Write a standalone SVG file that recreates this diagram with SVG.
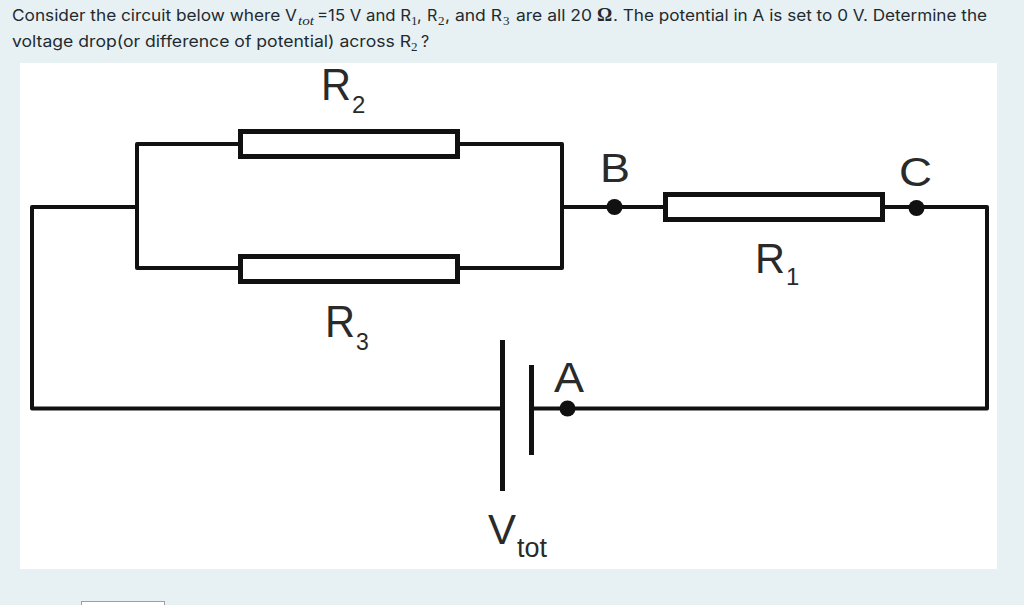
<svg xmlns="http://www.w3.org/2000/svg" width="1024" height="605" viewBox="0 0 1024 605">
<style>
.q{font-family:"Inter","Noto Sans",sans-serif;font-size:16px;fill:#1f2a30}
.m{font-family:"Liberation Serif",serif;fill:#1f2a30}
.l{font-family:"Liberation Sans",Arial,sans-serif;fill:#2a2a2a}
.w{fill:none;stroke:#111;stroke-width:4;stroke-linejoin:round}
.r{fill:#fff;stroke:#111;stroke-width:5}
.d{fill:#111}
</style>
<rect width="1024" height="605" fill="#e7f1f4"/>
<rect x="20" y="63" width="977" height="506" fill="#fff"/>
<rect x="81.500" y="601.500" width="83" height="6" fill="#fff" stroke="#9aa0a6"/>
<g id="question">
<text class="q" x="12" y="21" textLength="285" lengthAdjust="spacingAndGlyphs">Consider the circuit below where V</text>
<text class="m" x="298" y="25" font-size="13" font-style="italic" textLength="16" lengthAdjust="spacingAndGlyphs">tot</text>
<text class="q" x="317" y="21" textLength="94" lengthAdjust="spacingAndGlyphs">=15 V and R</text>
<text class="m" x="411" y="25" font-size="13">1</text>
<text class="q" x="417" y="21">,</text>
<text class="q" x="427" y="21">R</text>
<text class="m" x="438" y="25" font-size="13">2</text>
<text class="q" x="445" y="21" textLength="57" lengthAdjust="spacingAndGlyphs">, and R</text>
<text class="m" x="503" y="25" font-size="13">3</text>
<text class="q" x="516" y="21" textLength="76" lengthAdjust="spacingAndGlyphs">are all 20</text>
<text class="m" x="597" y="21" font-size="19" font-weight="bold">Ω</text>
<text class="q" x="613" y="21" textLength="374" lengthAdjust="spacingAndGlyphs">. The potential in A is set to 0 V. Determine the</text>
<text class="q" x="12" y="47" textLength="399" lengthAdjust="spacingAndGlyphs">voltage drop(or difference of potential) across R</text>
<text class="m" x="411" y="51" font-size="13">2</text>
<text class="q" x="421" y="47">?</text>
</g>
<g id="connectors">
<path class="w" d="M240 144H137V268H240"/>
<path class="w" d="M458 144H562V268H458"/>
<path class="w" d="M137 207H32V408.500H502"/>
<path class="w" d="M562 207H665"/>
<path class="w" d="M883 207H987V408.500H533"/>
</g>
<g id="R2"><rect class="r" x="240.500" y="131.500" width="217" height="25"/><text class="l" x="321" y="100" font-size="44" textLength="30" lengthAdjust="spacingAndGlyphs">R</text><text class="l" x="352" y="113" font-size="24">2</text></g>
<g id="R3"><rect class="r" x="240.500" y="256.500" width="217" height="25"/><text class="l" x="325" y="337" font-size="44" textLength="30" lengthAdjust="spacingAndGlyphs">R</text><text class="l" x="356" y="350" font-size="23">3</text></g>
<g id="R1"><rect class="r" x="665.500" y="194.500" width="217" height="25"/><text class="l" x="755" y="273" font-size="42" textLength="30" lengthAdjust="spacingAndGlyphs">R</text><text class="l" x="786" y="285" font-size="24">1</text></g>
<g id="battery"><rect class="d" x="500" y="340" width="5" height="151"/><rect class="d" x="529" y="365" width="5" height="90"/><text class="l" x="488" y="544" font-size="42">V</text><text class="l" x="517" y="557" font-size="27">tot</text></g>
<g id="A"><circle class="d" cx="567.500" cy="408.500" r="8"/><text class="l" x="554" y="392" font-size="42" textLength="30" lengthAdjust="spacingAndGlyphs">A</text></g>
<g id="B"><circle class="d" cx="614.500" cy="207" r="8"/><text class="l" x="600" y="182" font-size="41" textLength="30" lengthAdjust="spacingAndGlyphs">B</text></g>
<g id="C"><circle class="d" cx="916.500" cy="208" r="8"/><text class="l" x="899" y="186" font-size="40" textLength="33" lengthAdjust="spacingAndGlyphs">C</text></g>
</svg>
